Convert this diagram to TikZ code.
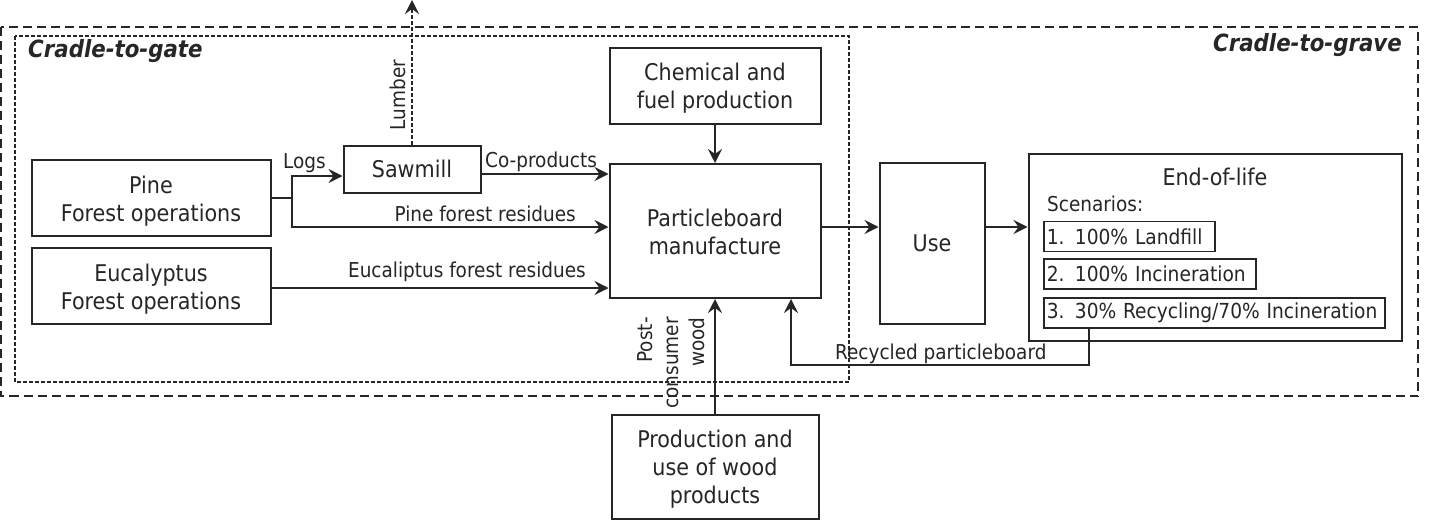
\documentclass[tikz,border=0pt]{standalone}
\usepackage{fontspec}
\setmainfont{DejaVu Sans Condensed}
\usetikzlibrary{arrows.meta}
\definecolor{ink}{gray}{0.15}
\tikzset{
 boxn/.style={draw=ink,line width=2pt,align=center,inner sep=0pt,font=\fontsize{23}{28}\selectfont,text=ink},
 sbox/.style={draw=ink,line width=1.6pt,anchor=west,inner sep=0pt,align=left,font=\fontsize{20.7}{24}\selectfont,text=ink},
 lab/.style={inner sep=0pt,font=\fontsize{20.5}{26}\selectfont,text=ink},
 conn/.style={draw=ink,line width=2pt,-{Stealth[length=14pt,width=14pt,inset=5pt]}},
 plain/.style={draw=ink,line width=2pt},
 dashone/.style={draw=ink,line width=2pt,dash pattern=on 9pt off 5pt},
 dashtwo/.style={draw=ink,line width=2.4pt,dash pattern=on 4pt off 2pt},
 ttl/.style={inner sep=0pt,font=\fontsize{23.7}{28}\selectfont\bfseries\itshape,text=ink}
}
\newcommand{\bx}[5]{\node[boxn,minimum width=#3pt,minimum height=#4pt] (#5) at (#1,#2)}
\newcommand{\tp}[1]{\rule{0pt}{#1pt}}
\begin{document}
\begin{tikzpicture}[x=1pt,y=-1pt]
\useasboundingbox (0,0) rectangle (1446,530);
\fill[white] (0,0) rectangle (1446,530);
\coordinate (oa) at (0.5,27);
\coordinate (oc) at (1418,396);
\draw[dashone] (oa) rectangle (oc);
\coordinate (ia) at (15,36);
\coordinate (ib) at (849,382);
\draw[dashtwo] (ia) rectangle (ib);
\node[ttl,anchor=west] (t1) at (28,51) {Cradle-to-gate};
\node[ttl,anchor=east] (t2) at (1402,45) {Cradle-to-grave};
\bx{151}{198}{239}{76}{pine} {\tp{24}Pine\\Forest operations};
\bx{151}{286}{239}{76}{euc} {\tp{24}Eucalyptus\\Forest operations};
\bx{412}{169}{137}{47}{saw} {Sawmill};
\bx{715}{86}{211}{76}{chem} {\tp{21.5}Chemical and\\fuel production};
\bx{715}{231}{211}{134}{pb} {\tp{19.5}Particleboard\\manufacture};
\bx{932}{243}{105}{161}{use} {Use};
\bx{715}{467}{207}{104}{prod} {\tp{22}Production and\\use of wood\\products};
\node[draw=ink,line width=2pt,minimum width=373pt,minimum height=187pt,inner sep=0pt] (eol) at (1215,247) {};
\node[boxn,draw=none] (eolt) at (1215,177) {End-of-life};
\node[lab,anchor=west] (scn) at (1047,204) {Scenarios:};
\node[sbox,text width=165pt,minimum height=30pt,inner xsep=3pt] (s1) at (1043,236.5) {1. 100\% Landfill};
\node[sbox,text width=206pt,minimum height=30pt,inner xsep=3pt] (s2) at (1043,274) {2. 100\% Incineration};
\node[sbox,text width=335pt,minimum height=30pt,inner xsep=3pt] (s3) at (1043,313) {3. 30\% Recycling/70\% Incineration};
% connectors
\coordinate (j) at (292,198);
\coordinate (ja) at (292,176);
\coordinate (jb) at (292,227);
\draw[plain] (pine.east |- j) -- (j);
\draw[conn] (j) -- (ja) -- (saw.west |- ja);
\draw[conn] (j) -- (jb) -- (pb.west |- jb);
\coordinate (co) at (saw.east |- 0,174);
\draw[conn] (co) -- (pb.west |- co);
\coordinate (eu) at (euc.east |- 0,288);
\draw[conn] (eu) -- (pb.west |- eu);
\draw[conn] (chem.south) -- (pb.north);
\draw[conn] (prod.north) -- (pb.south);
\coordinate (pu) at (pb.east |- 0,227);
\draw[conn] (pu) -- (use.west |- pu);
\coordinate (ue) at (use.east |- 0,227);
\draw[conn] (ue) -- (eol.west |- ue);
\coordinate (top) at (saw.north |- 0,0);
\draw[conn,dash pattern=on 4pt off 2pt] (saw.north) -- (top);
\coordinate (rb) at (1089,365);
\coordinate (ra) at (s3.south -| rb);
\coordinate (rc) at (791,365);
\coordinate (rd) at (pb.south -| rc);
\draw[conn] (ra) -- (rb) -- (rc) -- (rd);
\node[lab,anchor=west] (l1) at (283,163) {Logs};
\node[lab,anchor=west] (l2) at (485,162) {Co-products};
\node[lab,anchor=east] (l3) at (576,214) {Pine forest residues};
\node[lab,anchor=east] (l4) at (586,272) {Eucaliptus forest residues};
\node[lab,anchor=west] (l5) at (835,354) {Recycled particleboard};
\node[lab,rotate=90] (l6) at (398,95) {Lumber};
\node[lab,rotate=90,align=right] (l7) at (671,363) {Post-\\consumer\\wood};
\end{tikzpicture}
\end{document}
